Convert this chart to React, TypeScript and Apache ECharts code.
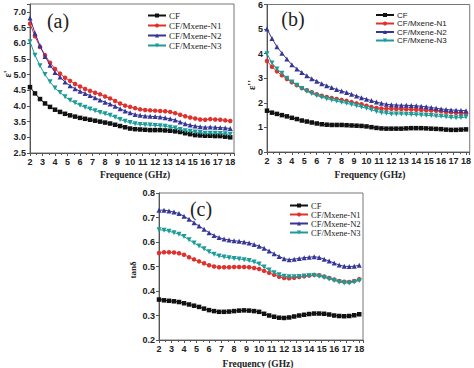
import React, { useEffect, useRef } from "react";
import * as echarts from "echarts";

const freq = [2, 2.4, 2.8, 3.2, 3.6, 4, 4.4, 4.8, 5.2, 5.6, 6, 6.4, 6.8, 7.2, 7.6, 8, 8.4, 8.8, 9.2, 9.6, 10, 10.4, 10.8, 11.2, 11.6, 12, 12.4, 12.8, 13.2, 13.6, 14, 14.4, 14.8, 15.2, 15.6, 16, 16.4, 16.8, 17.2, 17.6, 18];

const seriesNames = ["CF", "CF/Mxene-N1", "CF/Mxene-N2", "CF/Mxene-N3"];

// (a) real permittivity
const epsRealCF = [4.6, 4.4, 4.22, 4.08, 3.97, 3.88, 3.81, 3.75, 3.7, 3.66, 3.62, 3.59, 3.56, 3.53, 3.5, 3.47, 3.44, 3.4, 3.36, 3.32, 3.28, 3.26, 3.25, 3.24, 3.23, 3.23, 3.23, 3.22, 3.21, 3.19, 3.17, 3.13, 3.1, 3.07, 3.06, 3.05, 3.05, 3.04, 3.04, 3.02, 3.0];
const epsRealN1 = [6.62, 6.22, 5.88, 5.62, 5.38, 5.18, 5.03, 4.9, 4.8, 4.7, 4.62, 4.54, 4.48, 4.42, 4.37, 4.3, 4.24, 4.16, 4.08, 4.01, 3.97, 3.93, 3.89, 3.87, 3.86, 3.85, 3.84, 3.83, 3.81, 3.77, 3.72, 3.67, 3.63, 3.6, 3.57, 3.56, 3.58, 3.57, 3.56, 3.54, 3.52];
const epsRealN2 = [6.8, 6.32, 5.92, 5.58, 5.3, 5.07, 4.92, 4.76, 4.64, 4.55, 4.47, 4.4, 4.33, 4.26, 4.19, 4.12, 4.06, 3.99, 3.91, 3.84, 3.78, 3.73, 3.7, 3.68, 3.67, 3.66, 3.65, 3.62, 3.59, 3.55, 3.49, 3.43, 3.39, 3.36, 3.34, 3.32, 3.33, 3.32, 3.31, 3.3, 3.28];
const epsRealN3 = [6.05, 5.62, 5.28, 5.0, 4.77, 4.57, 4.43, 4.29, 4.18, 4.1, 4.02, 3.96, 3.9, 3.85, 3.79, 3.75, 3.7, 3.64, 3.57, 3.51, 3.47, 3.43, 3.41, 3.4, 3.39, 3.38, 3.37, 3.35, 3.32, 3.3, 3.25, 3.21, 3.19, 3.17, 3.15, 3.13, 3.13, 3.13, 3.12, 3.11, 3.1];

// (b) imaginary permittivity
const epsImagCF = [1.68, 1.6, 1.55, 1.5, 1.45, 1.39, 1.34, 1.28, 1.24, 1.2, 1.16, 1.13, 1.11, 1.1, 1.1, 1.1, 1.09, 1.08, 1.07, 1.06, 1.04, 1.01, 0.98, 0.96, 0.95, 0.95, 0.95, 0.95, 0.96, 0.97, 0.97, 0.97, 0.96, 0.95, 0.94, 0.93, 0.91, 0.9, 0.9, 0.91, 0.92];
const epsImagN1 = [3.7, 3.47, 3.28, 3.12, 2.97, 2.84, 2.72, 2.6, 2.51, 2.43, 2.35, 2.29, 2.24, 2.2, 2.16, 2.12, 2.08, 2.03, 1.98, 1.94, 1.88, 1.83, 1.79, 1.77, 1.76, 1.76, 1.75, 1.75, 1.74, 1.73, 1.72, 1.71, 1.7, 1.69, 1.68, 1.66, 1.63, 1.61, 1.59, 1.58, 1.58];
const epsImagN2 = [5.0, 4.62, 4.28, 4.02, 3.78, 3.55, 3.38, 3.23, 3.1, 2.98, 2.88, 2.78, 2.7, 2.62, 2.54, 2.48, 2.42, 2.35, 2.28, 2.21, 2.15, 2.09, 2.03, 1.98, 1.94, 1.92, 1.91, 1.9, 1.9, 1.89, 1.88, 1.86, 1.84, 1.81, 1.78, 1.75, 1.73, 1.71, 1.7, 1.69, 1.68];
const epsImagN3 = [4.0, 3.62, 3.38, 3.2, 3.0, 2.85, 2.72, 2.58, 2.47, 2.38, 2.3, 2.23, 2.17, 2.12, 2.07, 2.02, 1.98, 1.93, 1.88, 1.83, 1.78, 1.72, 1.65, 1.6, 1.58, 1.55, 1.55, 1.55, 1.54, 1.53, 1.52, 1.51, 1.49, 1.48, 1.46, 1.45, 1.43, 1.4, 1.39, 1.4, 1.42];

// (c) loss tangent
const tanCF = [0.365, 0.362, 0.36, 0.358, 0.355, 0.35, 0.345, 0.34, 0.335, 0.328, 0.322, 0.318, 0.315, 0.315, 0.316, 0.318, 0.32, 0.321, 0.32, 0.318, 0.315, 0.307, 0.3, 0.295, 0.291, 0.29, 0.292, 0.296, 0.3, 0.303, 0.306, 0.308, 0.308, 0.307, 0.304, 0.3, 0.298, 0.297, 0.298, 0.301, 0.305];
const tanN1 = [0.555, 0.558, 0.558, 0.557, 0.554, 0.548, 0.538, 0.529, 0.521, 0.513, 0.505, 0.5, 0.497, 0.497, 0.497, 0.498, 0.498, 0.498, 0.497, 0.494, 0.49, 0.482, 0.474, 0.466, 0.458, 0.453, 0.452, 0.454, 0.457, 0.46, 0.463, 0.466, 0.464, 0.459, 0.453, 0.447, 0.441, 0.438, 0.437, 0.441, 0.448];
const tanN2 = [0.73, 0.73, 0.727, 0.722, 0.716, 0.705, 0.693, 0.679, 0.665, 0.652, 0.638, 0.627, 0.618, 0.612, 0.608, 0.605, 0.603, 0.6, 0.596, 0.59, 0.583, 0.574, 0.563, 0.552, 0.541, 0.532, 0.528, 0.53, 0.533, 0.536, 0.538, 0.54, 0.537, 0.53, 0.522, 0.514, 0.506, 0.501, 0.5, 0.501, 0.505];
const tanN3 = [0.65, 0.648, 0.644, 0.638, 0.632, 0.622, 0.609, 0.596, 0.584, 0.572, 0.56, 0.55, 0.543, 0.539, 0.536, 0.533, 0.531, 0.528, 0.524, 0.518, 0.51, 0.498, 0.486, 0.475, 0.466, 0.46, 0.458, 0.458, 0.459, 0.461, 0.462, 0.463, 0.46, 0.455, 0.449, 0.443, 0.437, 0.433, 0.433, 0.437, 0.443];

const colors = ["#111111", "#e0312c", "#363696", "#1c9c98"];
const symbols = ["rect", "circle", "triangle", "triangle"];
const rotates = [0, 0, 0, 180];
const sizes = [4.5, 4.5, 5, 5];

const panels = [
  [epsRealCF, epsRealN1, epsRealN2, epsRealN3],
  [epsImagCF, epsImagN1, epsImagN2, epsImagN3],
  [tanCF, tanN1, tanN2, tanN3],
];

const SANS = "'Liberation Sans', Arial, sans-serif";
const SERIF = "'Liberation Serif', 'Times New Roman', serif";

export default function App() {
  const ref = useRef<HTMLDivElement>(null);
  useEffect(() => {
    if (!ref.current) return;
    const chart = echarts.init(ref.current, null, { renderer: "svg" });

    const grids = [
      { left: 30, top: 4, width: 204, height: 149 },
      { left: 267, top: 4, width: 206, height: 148 },
      { left: 159, top: 193, width: 204, height: 147 },
    ];
    const yCfg = [
      { min: 2.5, max: 7.25, interval: 0.5, fmt: (v: number) => (Math.abs(v * 2 - Math.round(v * 2)) < 1e-6 ? v.toFixed(1) : "") },
      { min: 0, max: 6, interval: 1, fmt: (v: number) => String(Math.round(v)) },
      { min: 0.2, max: 0.8, interval: 0.1, fmt: (v: number) => v.toFixed(1) },
    ];

    const axisLine = { lineStyle: { color: "#555", width: 1 } };
    const labelStyle = { fontFamily: SANS, fontWeight: "bold" as const, fontSize: 9, color: "#222" };

    const xAxis = grids.map((_, i) => ({
      type: "value" as const,
      gridIndex: i,
      min: 2,
      max: 18.3,
      interval: 1,
      axisLine,
      axisTick: { show: true, length: 3, inside: false, lineStyle: { color: "#555" } },
      minorTick: { show: true, splitNumber: 2, length: 2, lineStyle: { color: "#555" } },
      splitLine: { show: false },
      axisLabel: {
        ...labelStyle,
        margin: 4,
        formatter: (v: number) => (Math.abs(v - Math.round(v)) < 1e-6 ? String(Math.round(v)) : ""),
      },
    }));

    const yAxis = yCfg.map((c, i) => ({
      type: "value" as const,
      gridIndex: i,
      min: c.min,
      max: c.max,
      interval: c.interval,
      axisLine: { show: true, ...axisLine },
      axisTick: { show: true, length: 3, inside: false, lineStyle: { color: "#555" } },
      splitLine: { show: false },
      axisLabel: { ...labelStyle, margin: 4, formatter: c.fmt },
    }));

    const series: any[] = [];
    panels.forEach((arrs, p) => {
      arrs.forEach((arr, s) => {
        series.push({
          type: "line",
          name: seriesNames[s],
          xAxisIndex: p,
          yAxisIndex: p,
          data: freq.map((f, j) => [f, arr[j]]),
          symbol: symbols[s],
          symbolRotate: rotates[s],
          symbolSize: sizes[s],
          showAllSymbol: true,
          color: colors[s],
          lineStyle: { width: 1, color: colors[s] },
          itemStyle: { color: colors[s] },
          z: 2 + (p === 1 ? [0, 1, 3, 2][s] : s),
        });
      });
    });

    const legendBase = {
      orient: "vertical" as const,
      data: seriesNames,
      itemWidth: 18,
      itemHeight: 5,
      itemGap: 1,
      padding: 0,
      selectedMode: false,
    };

    const legend = [
      { ...legendBase, left: 147, top: 11, textStyle: { fontFamily: SERIF, fontSize: 9, color: "#222", padding: [0, 0, 0, -2] } },
      { ...legendBase, left: 375, top: 11, itemGap: 0.5, textStyle: { fontFamily: SANS, fontSize: 8, color: "#222", padding: [0, 0, 0, -2] } },
      { ...legendBase, left: 289, top: 201, itemGap: 0, textStyle: { fontFamily: SERIF, fontSize: 8.5, color: "#222", padding: [0, 0, 0, -2] } },
    ];

    const txt = (text: string, x: number, y: number, font: string, rotation = 0) => ({
      type: "text",
      x,
      y,
      rotation,
      style: {
        text,
        font,
        fill: "#222",
        textAlign: "center",
        textVerticalAlign: "middle",
        align: "center",
        verticalAlign: "middle",
      },
    });

    const graphic = [
      txt("(a)", 58, 21, `20px ${SERIF}`),
      txt("(b)", 293, 19, `20px ${SERIF}`),
      txt("(c)", 201, 209, `20px ${SERIF}`),
      txt("Frequence (GHz)", 135, 175, `bold 9.5px ${SERIF}`),
      txt("Frequency (GHz)", 370, 175, `bold 9.5px ${SERIF}`),
      txt("Frequency (GHz)", 258, 364, `bold 9.5px ${SERIF}`),
      txt("ε'", 7, 74, `bold 10px ${SERIF}`, Math.PI / 2),
      txt("ε''", 251, 85, `bold 10px ${SERIF}`, Math.PI / 2),
      txt("tanδ", 133, 270, `bold 9px ${SERIF}`, Math.PI / 2),
    ];

    chart.setOption({
      animation: false,
      backgroundColor: "#ffffff",
      grid: grids.map((g) => ({ ...g, show: true, borderColor: "#777", borderWidth: 1, backgroundColor: "transparent" })),
      xAxis,
      yAxis,
      legend,
      series,
      graphic,
    });

    return () => chart.dispose();
  }, []);

  return (
    <div
      ref={ref}
      style={{ position: "fixed", left: 0, top: 0, width: 474, height: 368, background: "#fff" }}
    />
  );
}
